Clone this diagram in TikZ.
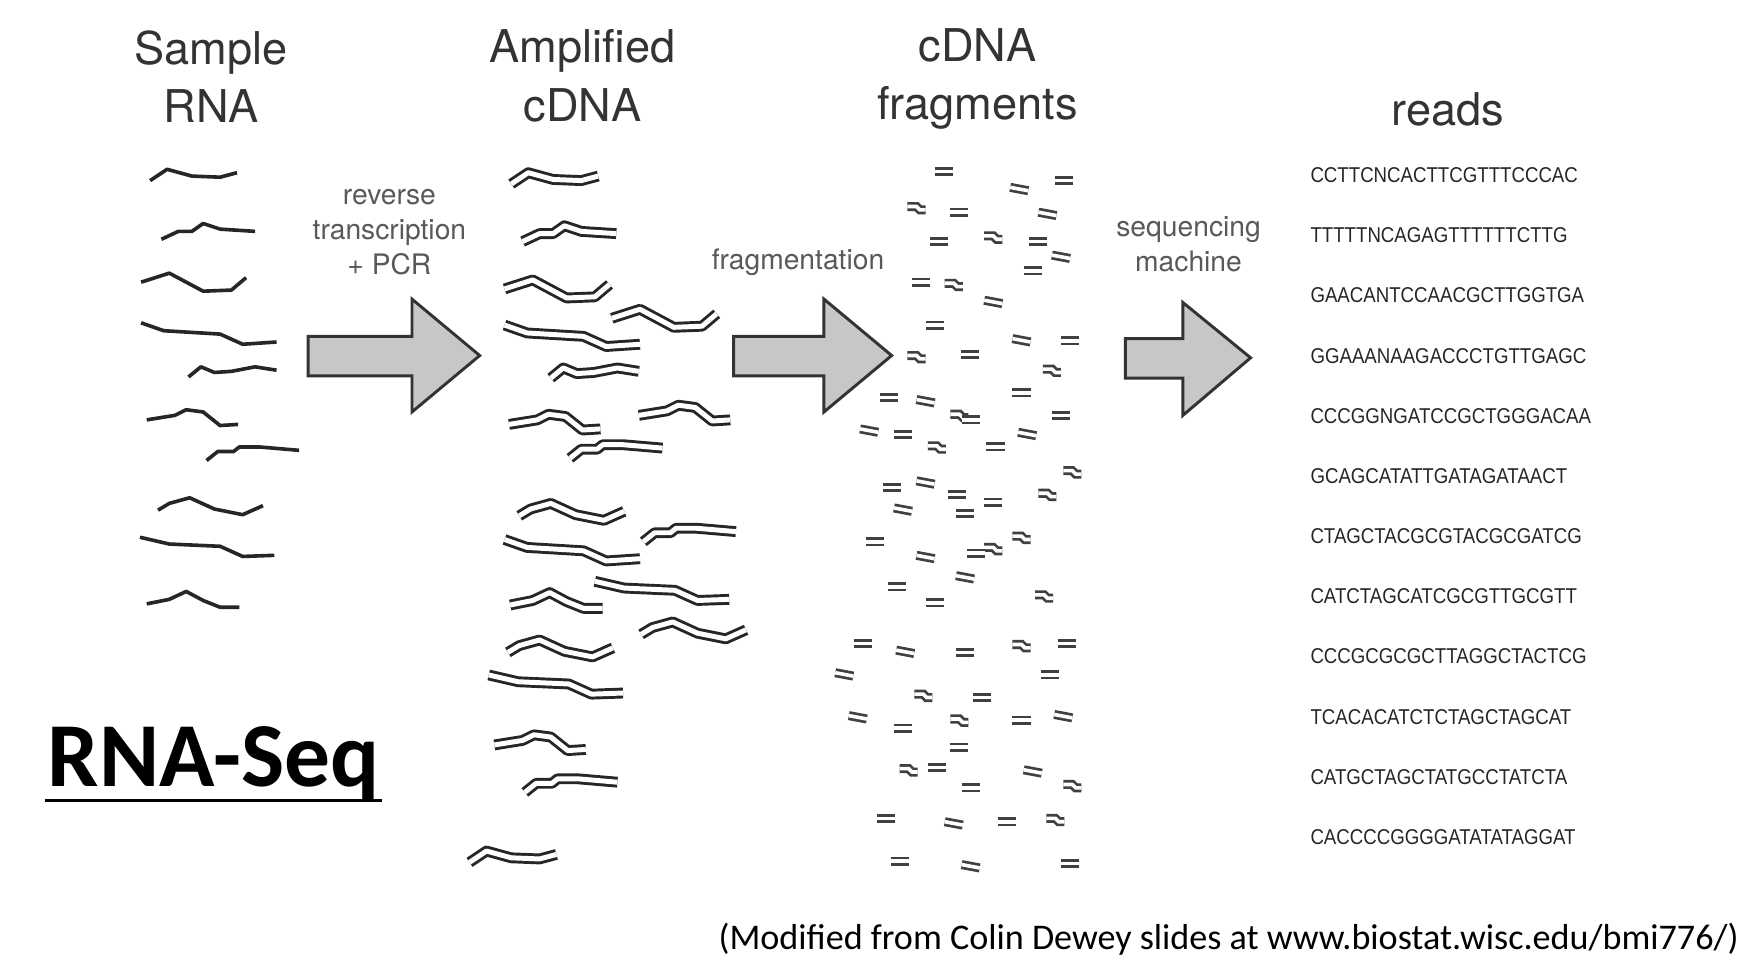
\documentclass[tikz,border=0pt]{standalone}
\usepackage{fontspec}
\usetikzlibrary{calc}
\setmainfont{TeX Gyre Heros}
\newfontfamily\carl{Carlito}
\newfontfamily\readsf{Liberation Sans}
\begin{document}
\begin{tikzpicture}[x=1pt,y=-1pt,
  rna/.style={line width=3.2pt,draw=black!85,line join=round},
  dna/.style={line width=2.6pt,draw=black!85,double=white,double distance=4.4pt,line join=round},
  frag/.style={line width=2.4pt,draw=black!75,double=white,double distance=3.2pt},
  bigarrow/.style={fill=black!22,draw=black!80,line width=2.6pt,line join=miter},
  title/.style={font=\fontsize{40}{52}\selectfont,text=black!80,align=center},
  lab/.style={font=\fontsize{25}{31}\selectfont,text=black!65,align=center},
  readtxt/.style={font=\readsf\fontsize{19}{22}\selectfont,text=black!85,anchor=west,xscale=0.87}]
\useasboundingbox[fill=white] (0,0) rectangle (1554,848);
\newcommand\shA{(0,0)--(15,-10)--(37,-4)--(62,-3)--(77,-7)}
\newcommand\shB{(0,0)--(15,-7)--(27,-7)--(37,-14)--(52,-9)--(83,-7)}
\newcommand\shC{(0,0)--(25,-8)--(40,0)--(55,8)--(80,7)--(93,-4)}
\newcommand\shD{(0,0)--(20,7)--(70,10)--(90,19)--(120,17)}
\newcommand\shE{(0,0)--(11,-9)--(23,-4)--(38,-5)--(59,-9)--(78,-6)}
\newcommand\shF{(0,0)--(25,-4)--(35,-9)--(50,-7)--(65,5)--(81,4)}
\newcommand\shG{(0,0)--(10,-8)--(24,-8)--(29,-12)--(47,-12)--(82,-9)}
\newcommand\shH{(0,0)--(10,-6)--(28,-11)--(50,-1)--(75,4)--(93,-4)}
\newcommand\shI{(0,0)--(26,6)--(71,8)--(91,17)--(119,16)}
\newcommand\shJ{(0,0)--(20,-4)--(35,-11)--(50,-3)--(65,3)--(82,3)}
% titles
\node[title] (t1) at (187,68) {Sample\\RNA};
\node[title] (t2) at (516,67) {Amplified\\cDNA};
\node[title] (t3) at (866,70) {cDNA\\fragments};
\node[title] (t4) at (1283,97) {reads};
% sample RNA
\draw[rna,shift={(133,160)}] \shA;
\draw[rna,shift={(143,212)}] \shB;
\draw[rna,shift={(125,250)}] \shC;
\draw[rna,shift={(125,286)}] \shD;
\draw[rna,shift={(167,334)}] \shE;
\draw[rna,shift={(130,372)}] \shF;
\draw[rna,shift={(183,408)}] \shG;
\draw[rna,shift={(140,452)}] \shH;
\draw[rna,shift={(124,476)}] \shI;
\draw[rna,shift={(130,535)}] \shJ;
% amplified cDNA
\draw[dna,shift={(453,163)}] \shA;
\draw[dna,shift={(463,214)}] \shB;
\draw[dna,shift={(447,256)}] \shC;
\draw[dna,shift={(542,282)}] \shC;
\draw[dna,shift={(447,288)}] \shD;
\draw[dna,shift={(488,335)}] \shE;
\draw[dna,shift={(566,368)}] \shF;
\draw[dna,shift={(451,376)}] \shF;
\draw[dna,shift={(505,406)}] \shG;
\draw[dna,shift={(460,457)}] \shH;
\draw[dna,shift={(447,478)}] \shD;
\draw[dna,shift={(570,480)}] \shG;
\draw[dna,shift={(452,536)}] \shJ;
\draw[dna,shift={(527,515)}] \shI;
\draw[dna,shift={(568,562)}] \shH;
\draw[dna,shift={(450,578)}] \shH;
\draw[dna,shift={(433,598)}] \shI;
\draw[dna,shift={(438,660)}] \shF;
\draw[dna,shift={(465,702)}] \shG;
\draw[dna,shift={(416,764)}] \shA;
% fragments
\foreach \x/\y [count=\i] in {836/152,903/168,943/160,812/186,850/188,928/190,832/214,880/212,920/214,940/228,816/250,845/254,915/240,880/268,828/288,812/318,859/314,905/302,948/302,932/330,788/352,820/356,905/348,850/370,940/368,770/382,800/385,830/398,860/372,910/385,882/396,950/420,790/432,820/428,880/445,928/440,848/438,800/452,855/455,880/488,775/480,820/494,865/490,905/478,795/520,855/512,828/534,925/530,765/570,802/578,855/578,905/574,945/570,748/598,930/598,818/618,870/618,760/636,800/645,850/640,905/638,942/635,850/662,805/684,830/680,915/684,860/698,950/698,785/725,845/730,892/728,935/728,797/763,860/768,948/765} {
  \pgfmathtruncatemacro\m{mod(\i,4)}
  \ifnum\m=0
    \draw[frag] (\x-8,\y-3) -- (\x,\y-3) -- (\x+3,\y) -- (\x+8,\y);
  \else\ifnum\m=2
    \draw[frag] (\x-8,\y-2) -- (\x+8,\y+1);
  \else
    \draw[frag] (\x-8,\y) -- (\x+8,\y);
  \fi\fi
}
% arrows
\draw[bigarrow] (273,298) -- (365,298) -- (365,265) -- (425,315) -- (365,365) -- (365,333) -- (273,333) -- cycle;
\draw[bigarrow] (650,298) -- (730,298) -- (730,265) -- (790,315) -- (730,365) -- (730,333) -- (650,333) -- cycle;
\draw[bigarrow] (997,300) -- (1048,300) -- (1048,268) -- (1108,317) -- (1048,368) -- (1048,335) -- (997,335) -- cycle;
\node[lab] (l1) at (345,206) {reverse\\transcription\\+ PCR};
\node[lab] (l2) at (707,232) {fragmentation};
\node[lab] (l3) at (1053,216) {sequencing\\machine};
% reads
\foreach \s [count=\i] in {CCTTCNCACTTCGTTTCCCAC,TTTTTNCAGAGTTTTTTCTTG,GAACANTCCAACGCTTGGTGA,GGAAANAAGACCCTGTTGAGC,CCCGGNGATCCGCTGGGACAA,GCAGCATATTGATAGATAACT,CTAGCTACGCGTACGCGATCG,CATCTAGCATCGCGTTGCGTT,CCCGCGCGCTTAGGCTACTCG,TCACACATCTCTAGCTAGCAT,CATGCTAGCTATGCCTATCTA,CACCCCGGGGATATATAGGAT}
  \node[readtxt] (r\i) at (1158,102+53.3*\i) {\s};
% RNA-Seq
\node[font=\carl\bfseries\fontsize{81}{90}\selectfont,anchor=base west,inner sep=0] (rs) at (42,697) {RNA-Seq};
\draw[line width=2.8pt] ($(rs.base west)+(-2,12)$) -- ($(rs.base east)+(2,12)$);
\node[font=\carl\fontsize{32}{36}\selectfont,anchor=east] (cap) at (1544,832) {(Modified from Colin Dewey slides at www.biostat.wisc.edu/bmi776/)};
\end{tikzpicture}
\end{document}
